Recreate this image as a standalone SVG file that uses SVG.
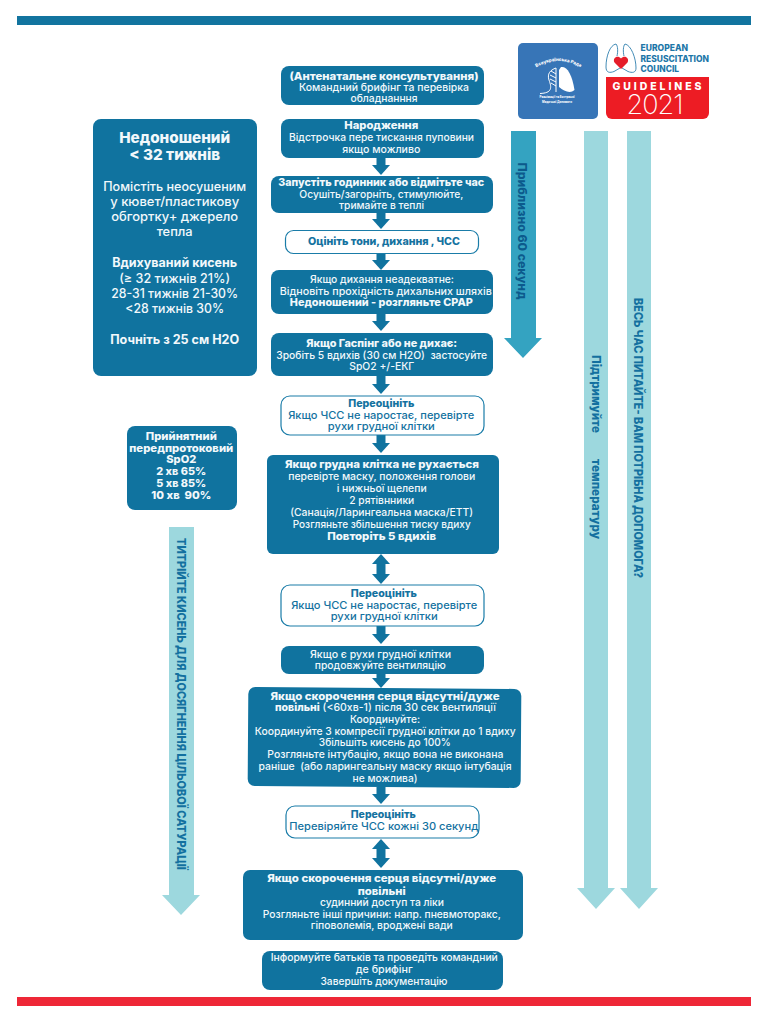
<svg xmlns="http://www.w3.org/2000/svg" width="768" height="1024" viewBox="0 0 768 1024">
<style>
text{font-family:"Inter","Noto Sans","DejaVu Sans",sans-serif;text-anchor:middle;font-size:10.500px;font-weight:500}
.d{fill:#10739f}.w{fill:#fff;stroke:#1a7ca8;stroke-width:1.2}
.dt text{fill:#f2f8fb}.wt text{fill:#14729f}
text.b{font-weight:800}
.l text{font-size:12.500px}
.l text.m{font-weight:700}
.l text.b{font-size:15px}
.bar{fill:#9dd8de}
.rot{font-weight:800;fill:#13709f;font-size:12px}
.c line{stroke:#10739f;stroke-width:9}
</style>
<defs>
<marker id="h" markerUnits="userSpaceOnUse" markerWidth="19" markerHeight="20" refX="0" refY="10" orient="auto-start-reverse"><path d="M0 1L10 10L0 19Z" fill="#10739f"/></marker>
</defs>
<rect x="17" y="16" width="734" height="9" fill="#12749f"/>
<rect x="17" y="997" width="734" height="9" fill="#ee2737"/>

<g id="side-arrows">
<path fill="#34a3c1" d="M511 131H536V338H542L523 358L504 338H511Z"/>
<path class="bar" d="M584 131H608V888H615L596 909L577 888H584Z"/>
<path class="bar" d="M627 131H651V888H658L639 909L620 888H627Z"/>
<path class="bar" d="M169 527H194V895H200L181 915L162 895H169Z"/>
<text class="rot" transform="translate(522 231) rotate(90)" textLength="137" lengthAdjust="spacingAndGlyphs" dy="4" style="fill:#0c5a8c">Приблизно 60 секунд</text>
<text class="rot" transform="translate(596 394) rotate(90)" textLength="78" lengthAdjust="spacingAndGlyphs" dy="4">Підтримуйте</text>
<text class="rot" transform="translate(596 499) rotate(90)" textLength="80" lengthAdjust="spacingAndGlyphs" dy="4">температуру</text>
<text class="rot" transform="translate(638 438) rotate(90)" textLength="280" lengthAdjust="spacingAndGlyphs" dy="4">ВЕСЬ ЧАС ПИТАЙТЕ- ВАМ ПОТРІБНА ДОПОМОГА?</text>
<text class="rot" transform="translate(181 704) rotate(90)" textLength="332" lengthAdjust="spacingAndGlyphs" dy="4">ТИТРІЙТЕ КИСЕНЬ ДЛЯ ДОСЯГНЕННЯ ЦІЛЬОВОЇ САТУРАЦІЇ</text>
</g>

<g id="connectors" class="c">
<line x1="381" y1="158" x2="381" y2="165" marker-end="url(#h)"/>
<line x1="381" y1="213" x2="381" y2="219" marker-end="url(#h)"/>
<line x1="381" y1="253" x2="381" y2="260" marker-end="url(#h)"/>
<line x1="381" y1="314" x2="381" y2="321" marker-end="url(#h)"/>
<line x1="381" y1="376" x2="381" y2="384" marker-end="url(#h)"/>
<line x1="381" y1="435" x2="381" y2="443" marker-end="url(#h)"/>
<line x1="381" y1="564" x2="381" y2="574" marker-start="url(#h)" marker-end="url(#h)"/>
<line x1="381" y1="626" x2="381" y2="634" marker-end="url(#h)"/>
<line x1="381" y1="674" x2="381" y2="678" marker-end="url(#h)"/>
<line x1="381" y1="787" x2="381" y2="794" marker-end="url(#h)"/>
<line x1="381" y1="849" x2="381" y2="858" marker-start="url(#h)" marker-end="url(#h)"/>
</g>

<g id="preterm" class="dt l"><rect class="d" x="93" y="119" width="164" height="257" rx="8"/>
<text class="b" x="174.700" y="143" textLength="111" lengthAdjust="spacingAndGlyphs">Недоношений</text>
<text class="b" x="174.700" y="160" textLength="91" lengthAdjust="spacingAndGlyphs">&lt; 32 тижнів</text>
<text x="174.700" y="190.500" textLength="143" lengthAdjust="spacingAndGlyphs">Помістіть неосушеним</text>
<text x="174.700" y="206" textLength="129" lengthAdjust="spacingAndGlyphs">у кювет/пластикову</text>
<text x="174.700" y="221" textLength="127" lengthAdjust="spacingAndGlyphs">обгортку+ джерело</text>
<text x="174.700" y="236" textLength="36" lengthAdjust="spacingAndGlyphs">тепла</text>
<text class="m" x="174.700" y="267" textLength="125" lengthAdjust="spacingAndGlyphs">Вдихуваний кисень</text>
<text x="174.700" y="282.500" textLength="111" lengthAdjust="spacingAndGlyphs">(≥ 32 тижнів 21%)</text>
<text x="174.700" y="298" textLength="127" lengthAdjust="spacingAndGlyphs">28-31 тижнів 21-30%</text>
<text x="174.700" y="313" textLength="99" lengthAdjust="spacingAndGlyphs">&lt;28 тижнів 30%</text>
<text class="m" x="174.700" y="344" textLength="129" lengthAdjust="spacingAndGlyphs">Почніть з 25 см Н2О</text>
</g>
<g id="spo2" class="dt"><rect class="d" x="127" y="426" width="110" height="84" rx="8"/>
<text class="b" x="181.300" y="440" textLength="71" lengthAdjust="spacingAndGlyphs">Прийнятний</text>
<text class="b" x="181.300" y="452" textLength="104" lengthAdjust="spacingAndGlyphs">передпротоковий</text>
<text class="b" x="181.300" y="463" textLength="30" lengthAdjust="spacingAndGlyphs">SpO2</text>
<text class="b" x="181.300" y="475" textLength="50" lengthAdjust="spacingAndGlyphs">2 хв 65%</text>
<text class="b" x="181.300" y="487" textLength="50" lengthAdjust="spacingAndGlyphs">5 хв 85%</text>
<text class="b" x="181.300" y="499" textLength="60" lengthAdjust="spacingAndGlyphs" xml:space="preserve">10 хв  90%</text>
</g>

<g id="n1" class="dt"><rect class="d" x="281" y="66" width="203" height="39" rx="8"/>
<text class="b" x="384" y="79.500" textLength="189" lengthAdjust="spacingAndGlyphs">(Антенатальне консультування)</text>
<text x="384" y="90.500" textLength="170" lengthAdjust="spacingAndGlyphs">Командний брифінг та перевірка</text>
<text x="384" y="102" textLength="67" lengthAdjust="spacingAndGlyphs">обладнанння</text></g>
<g id="n2" class="dt"><rect class="d" x="281" y="119" width="203" height="39" rx="8"/>
<text class="b" x="381.300" y="129" textLength="74" lengthAdjust="spacingAndGlyphs">Народження</text>
<text x="381.500" y="140.500" textLength="185" lengthAdjust="spacingAndGlyphs">Відстрочка пере тискання пуповини</text>
<text x="381.300" y="152.500" textLength="78" lengthAdjust="spacingAndGlyphs">якщо можливо</text></g>
<g id="n3" class="dt"><rect class="d" x="271" y="176" width="222" height="37" rx="8"/>
<text class="b" x="381.200" y="186" textLength="206" lengthAdjust="spacingAndGlyphs">Запустіть годинник або відмітьте час</text>
<text x="381.300" y="197.500" textLength="164" lengthAdjust="spacingAndGlyphs">Осушіть/загорніть, стимулюйте,</text>
<text x="381.500" y="209" textLength="85" lengthAdjust="spacingAndGlyphs">тримайте в теплі</text></g>
<g id="n4" class="wt"><rect class="w" x="285.500" y="230.500" width="193" height="23" rx="8"/>
<text class="b" x="384" y="245" textLength="152" lengthAdjust="spacingAndGlyphs">Оцініть тони, дихання , ЧСС</text></g>
<g id="n5" class="dt"><rect class="d" x="271" y="270" width="222" height="44" rx="8"/>
<text x="382" y="282.500" textLength="144" lengthAdjust="spacingAndGlyphs">Якщо дихання неадекватне:</text>
<text x="385.800" y="294.500" textLength="212" lengthAdjust="spacingAndGlyphs">Відновіть прохідність дихальних шляхів</text>
<text class="b" x="381.300" y="306" textLength="183" lengthAdjust="spacingAndGlyphs">Недоношений - розгляньте CPAP</text></g>
<g id="n6" class="dt"><rect class="d" x="271" y="333" width="222" height="43" rx="8"/>
<text class="b" x="381.700" y="346.500" textLength="151" lengthAdjust="spacingAndGlyphs">Якщо Гаспінг або не дихає:</text>
<text x="381.700" y="358.500" textLength="211" lengthAdjust="spacingAndGlyphs" xml:space="preserve">Зробіть 5 вдихів (30 см Н2О)  застосуйте</text>
<text x="381.800" y="370" textLength="65" lengthAdjust="spacingAndGlyphs">SpO2 +/-ЕКГ</text></g>
<g id="n7" class="wt"><rect class="w" x="281" y="396" width="203" height="39" rx="9"/>
<text class="b" x="381.300" y="406.500" textLength="66" lengthAdjust="spacingAndGlyphs">Переоцініть</text>
<text x="381.200" y="418.500" textLength="186" lengthAdjust="spacingAndGlyphs">Якщо ЧСС не наростає, перевірте</text>
<text x="381.300" y="430" textLength="107" lengthAdjust="spacingAndGlyphs">рухи грудної клітки</text></g>
<g id="n8" class="dt"><rect class="d" x="267" y="455" width="232" height="99" rx="6"/>
<text class="b" x="382" y="468" textLength="194" lengthAdjust="spacingAndGlyphs">Якщо грудна клітка не рухається</text>
<text x="381.700" y="480" textLength="187" lengthAdjust="spacingAndGlyphs">перевірте маску, положення голови</text>
<text x="381.700" y="492" textLength="90" lengthAdjust="spacingAndGlyphs">і нижньої щелепи</text>
<text x="381.800" y="503.500" textLength="65" lengthAdjust="spacingAndGlyphs">2 рятівнники</text>
<text x="381.700" y="515.500" textLength="183" lengthAdjust="spacingAndGlyphs">(Санація/Ларингеальна маска/ЕТТ)</text>
<text x="381.700" y="527.500" textLength="178" lengthAdjust="spacingAndGlyphs">Розгляньте збільшення тиску вдиху</text>
<text class="b" x="381.700" y="539.500" textLength="109" lengthAdjust="spacingAndGlyphs">Повторіть 5 вдихів</text></g>
<g id="n9" class="wt"><rect class="w" x="281" y="585" width="203" height="41" rx="9"/>
<text class="b" x="383.800" y="597" textLength="66" lengthAdjust="spacingAndGlyphs">Переоцініть</text>
<text x="384.200" y="608.500" textLength="186" lengthAdjust="spacingAndGlyphs">Якщо ЧСС не наростає, перевірте</text>
<text x="384.200" y="620" textLength="107" lengthAdjust="spacingAndGlyphs">рухи грудної клітки</text></g>
<g id="n10" class="dt"><rect class="d" x="281" y="646" width="203" height="28" rx="8"/>
<text x="380.500" y="657.500" textLength="141" lengthAdjust="spacingAndGlyphs">Якщо є рухи грудної клітки</text>
<text x="380.300" y="669" textLength="131" lengthAdjust="spacingAndGlyphs">продовжуйте вентиляцію</text></g>
<g id="n11" class="dt"><rect class="d" x="248" y="688" width="273" height="99" rx="7" transform="rotate(0.4 384 737)"/>
<text class="b" x="385" y="699.500" textLength="229" lengthAdjust="spacingAndGlyphs">Якщо скорочення серця відсутні/дуже</text>
<text x="385.500" y="711" textLength="221" lengthAdjust="spacingAndGlyphs"><tspan style="font-weight:800">повільні</tspan> (&lt;60хв-1) після 30 сек вентиляції</text>
<text x="385" y="722.500" textLength="70" lengthAdjust="spacingAndGlyphs">Координуйте:</text>
<text x="385.300" y="734.500" textLength="261" lengthAdjust="spacingAndGlyphs">Координуйте 3 компресії грудної клітки до 1 вдиху</text>
<text x="384.800" y="746" textLength="132" lengthAdjust="spacingAndGlyphs">Збільшіть кисень до 100%</text>
<text x="385.300" y="757.500" textLength="236" lengthAdjust="spacingAndGlyphs">Розгляньте інтубацію, якщо вона не виконана</text>
<text x="385" y="769.500" textLength="253" lengthAdjust="spacingAndGlyphs" xml:space="preserve">раніше  (або ларингеальну маску якщо інтубація</text>
<text x="385" y="782" textLength="65" lengthAdjust="spacingAndGlyphs">не можлива)</text></g>
<g id="n12" class="wt"><rect class="w" x="286" y="806" width="193" height="32" rx="9"/>
<text class="b" x="383.300" y="817.500" textLength="65" lengthAdjust="spacingAndGlyphs">Переоцініть</text>
<text x="383.800" y="829.500" textLength="189" lengthAdjust="spacingAndGlyphs">Перевіряйте ЧСС кожні 30 секунд</text></g>
<g id="n13" class="dt"><rect class="d" x="243" y="870" width="280" height="70" rx="7"/>
<text class="b" x="381.700" y="882" textLength="229" lengthAdjust="spacingAndGlyphs">Якщо скорочення серця відсутні/дуже</text>
<text class="b" x="381.700" y="894.500" textLength="48" lengthAdjust="spacingAndGlyphs">повільні</text>
<text x="382" y="906" textLength="124" lengthAdjust="spacingAndGlyphs">судинний доступ та ліки</text>
<text x="381.800" y="917.500" textLength="238" lengthAdjust="spacingAndGlyphs">Розгляньте інші причини: напр. пневмоторакс,</text>
<text x="381.800" y="929" textLength="142" lengthAdjust="spacingAndGlyphs">гіповолемія, вроджені вади</text></g>
<g id="n14" class="dt"><rect class="d" x="262" y="951" width="241" height="39" rx="8"/>
<text x="384.300" y="961" textLength="227" lengthAdjust="spacingAndGlyphs">Інформуйте батьків та проведіть командний</text>
<text x="384.200" y="972.500" textLength="57" lengthAdjust="spacingAndGlyphs">де брифінг</text>
<text x="384" y="984.500" textLength="127" lengthAdjust="spacingAndGlyphs">Завершіть документацію</text></g>

<g id="logo-ua">
<rect x="518" y="43" width="80" height="76" rx="5" fill="#3775b7"/>
<path d="M561 67C567 66 572 74 574.500 90C570 94 564 91 559 87V70Z" fill="#fff"/>
<path d="M556 68C550 70 547 74 549 80C552 88 552 93 540 93.500" fill="none" stroke="#fff" stroke-width="1"/>
<path d="M556 68V92M556 74L551 71M556 78L550 75M556 82L550 79M556 86L551 83" fill="none" stroke="#fff" stroke-width="1"/>
<path id="arc" d="M537 67Q558 55 580 67" fill="none"/>
<text style="font-size:4.500px;font-weight:800" fill="#fff"><textPath href="#arc" startOffset="50%">Всеукраїнська Рада</textPath></text>
<text x="557" y="98" style="font-size:3.600px;font-weight:700" fill="#fff" textLength="35" lengthAdjust="spacingAndGlyphs">Реанімації та Екстреної</text>
<text x="557" y="103" style="font-size:3.600px;font-weight:700" fill="#fff" textLength="30" lengthAdjust="spacingAndGlyphs">Медичної Допомоги</text>
</g>
<g id="logo-erc">
<path d="M616 44C610 45 606 56 606 67C606 73 610 73 614 71.500L620 68M625 44C631 45 636 58 636 68C636 73 632 73 628 71.500L622 68M616 44C618 46 618 52 617 56M625 44C623 46 623 52 624 56" fill="none" stroke="#2f7fae" stroke-width="0.900"/>
<path d="M621 69L614.500 62.500C612 57.500 618 54.500 621 58.500C624 54.500 630 57.500 627.500 62.500Z" fill="#e51d2a"/>
<g fill="#1d76a8">
<text x="640.500" y="51" style="text-anchor:start;font-size:8.500px;font-weight:800" textLength="47.500" lengthAdjust="spacingAndGlyphs">EUROPEAN</text>
<text x="640.500" y="61.500" style="text-anchor:start;font-size:8.500px;font-weight:800" textLength="68.500" lengthAdjust="spacingAndGlyphs">RESUSCITATION</text>
<text x="640.500" y="71.500" style="text-anchor:start;font-size:8.500px;font-weight:800" textLength="38.500" lengthAdjust="spacingAndGlyphs">COUNCIL</text>
</g>
<path d="M606 77H709V113a6 6 0 0 1-6 6H612a6 6 0 0 1-6-6Z" fill="#ed1c24"/>
<text x="657" y="90" fill="#fff" style="font-size:10.500px;font-weight:800" textLength="89">GUIDELINES</text>
<text x="655" y="113.500" fill="#fff" style="font-size:27px;font-weight:200" textLength="57">2021</text>
</g>
</svg>
